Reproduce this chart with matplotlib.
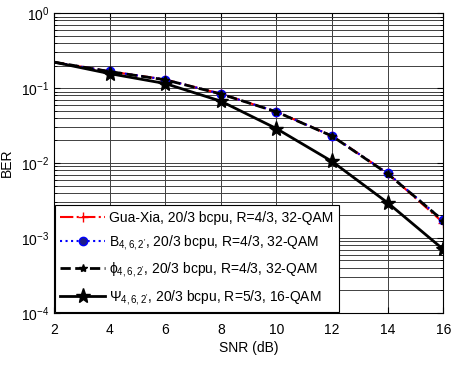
import matplotlib.pyplot as plt
import numpy as np

plt.rcParams["font.family"] = ["Liberation Sans", "DejaVu Sans"]
plt.rcParams["mathtext.fontset"] = "custom"
plt.rcParams["mathtext.rm"] = "Liberation Sans"
plt.rcParams["mathtext.it"] = "Liberation Sans:italic"
plt.rcParams["mathtext.sf"] = "Liberation Sans"

snr = [2, 4, 6, 8, 10, 12, 14, 16]
ber_guaxia = [0.222, 0.167, 0.130, 0.0838, 0.0484, 0.0230, 0.0073, 0.00160]
ber_b462 = [0.222, 0.167, 0.130, 0.0838, 0.0484, 0.0230, 0.0073, 0.00172]
ber_phi462 = [0.222, 0.166, 0.129, 0.0835, 0.0482, 0.0229, 0.0072, 0.00170]
ber_psi462 = [0.222, 0.156, 0.115, 0.0669, 0.0288, 0.0105, 0.00295, 0.000705]

labels = [
    "Gua-Xia, 20/3 bcpu, R=4/3, 32-QAM",
    r"B$_{4,6,2'}$, 20/3 bcpu, R=4/3, 32-QAM",
    r"$\mathrm{\phi}_{4,6,2'}$, 20/3 bcpu, R=4/3, 32-QAM",
    r"$\mathrm{\Psi}_{4,6,2'}$, 20/3 bcpu, R=5/3, 16-QAM",
]

fig = plt.figure(figsize=(4.74, 3.76), dpi=100)
ax = fig.add_axes([0.114, 0.168, 0.821, 0.797])

ax.semilogy(snr, ber_guaxia, color="red", linestyle="-.", marker="+",
            markersize=7, markevery=slice(1, None), linewidth=1.5, label=labels[0])
ax.semilogy(snr, ber_b462, color="blue", linestyle=":", marker="o",
            markersize=6, markerfacecolor="#1c1c8c", markeredgecolor="blue",
            markevery=slice(1, None), linewidth=1.5, label=labels[1])
ax.semilogy(snr, ber_phi462, color="black", linestyle="--", marker="*",
            markersize=6, markevery=slice(1, None), linewidth=2, label=labels[2])
ax.semilogy(snr, ber_psi462, color="black", linestyle="-", marker="*",
            markersize=11, markevery=slice(1, None), linewidth=2, label=labels[3])

ax.set_xlim(2, 16)
ax.set_ylim(1e-4, 1)
ax.set_xticks(range(2, 17, 2))
ax.set_xlabel("SNR (dB)", fontsize=10, labelpad=3)
ax.set_ylabel("BER", fontsize=10, labelpad=5)
ax.tick_params(which="both", direction="in", top=True, right=True, labelsize=10)
ax.tick_params(axis="x", pad=7)
ax.tick_params(which="major", length=4)
ax.tick_params(which="minor", length=2)
ax.grid(which="both", color="#404040", linewidth=0.7, linestyle="-")
for s in ax.spines.values():
    s.set_linewidth(0.8)

leg = ax.legend(loc="lower left", fontsize=10, handlelength=3.2,
                fancybox=False, framealpha=1, edgecolor="black",
                borderaxespad=0.05, labelspacing=0.6, borderpad=0.4,
                handletextpad=0.3)
leg.get_frame().set_linewidth(0.8)

fig.savefig("out.png", dpi=100)
